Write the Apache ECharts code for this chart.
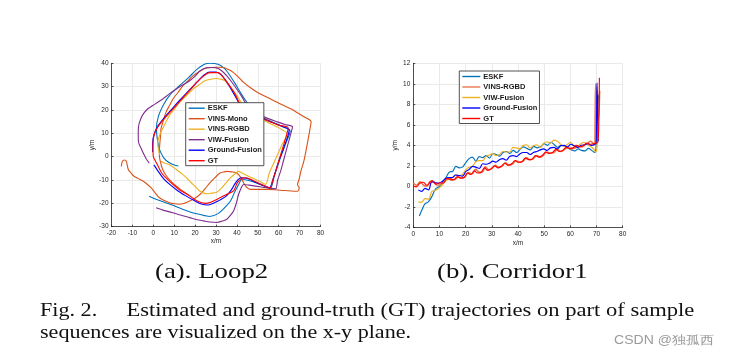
<!DOCTYPE html>
<html>
<head>
<meta charset="utf-8">
<script src="https://cdn.jsdelivr.net/npm/echarts@6/dist/echarts.min.js"></script>
<style>html,body{margin:0;padding:0;background:#fff}#c{width:729px;height:357px}</style>
</head>
<body>
<div id="c"></div>
<script>
// ---------- (a) Loop2 : trajectories [x, y] in metres ----------
const loopNames = ['ESKF', 'VINS-Mono', 'VINS-RGBD', 'VIW-Fusion', 'Ground-Fusion', 'GT'];
const loopESKF = [[-2,-17],[2,-18.5],[6,-19.7],[10,-21],[14,-22.5],[18,-23.8],[22,-24.7],[27,-25.6],[31,-24.4],[34,-22],[37,-18.9],[39,-15],[40.5,-12.5],[42.5,-9.8],[46,-10.3],[50,-11.5],[54,-13],[56,-13.5],[58,-8],[61,0],[63.5,6],[65.5,11],[62,12.8],[57,14.8],[52,17],[48,19.5],[45,23],[42,27],[39,31.5],[36.5,35],[34,37.8],[31,39.6],[27,40],[24.5,39.6],[21,37.5],[17,34],[12.5,30.4],[8,26.5],[5,22.5],[2.5,17.5],[1.5,12],[2,7],[3,3],[5,-0.5],[7.5,-2.5],[10,-3.6],[12,-4]];
const loopVINSMono = [[17,-16.5],[13,-14],[9.5,-11.5],[6.5,-8.5],[4.5,-5.5],[3.2,-1.5],[2.9,1],[3,4],[3.2,6.4],[3.5,9.5],[3.7,12],[4.8,15.5],[6.1,19.1],[7.8,22],[9.4,24.7],[11.8,27.5],[14.2,30.4],[16.6,32.5],[19,34.6],[21.5,36.2],[23.9,37.5],[26.3,38.1],[28.7,38.2],[31,38.3],[33.5,38.2],[36,37.3],[38.4,36],[40.8,34],[43.2,31.8],[46.5,29.5],[49.7,27.6],[53.7,25.8],[57.7,24],[61.7,22.2],[65.8,20.5],[69,18.8],[72.3,17],[75.5,15],[75,12],[74,7],[73,2.2],[72,-2],[70.6,-6.3],[69.8,-9.5],[69,-12],[69.8,-13.3],[69,-14.8],[65.8,-14.7],[62.6,-14.5],[58.5,-14.2],[54.5,-14],[50.5,-14],[46.5,-14],[44.5,-13],[43.2,-11.2],[42.4,-9.8],[41.3,-8.2],[40,-7],[37.5,-6.5],[35.2,-6.3],[33.5,-6.6],[31.9,-7],[29.5,-9],[27.1,-11.2],[24.7,-13.8],[22.3,-16.2],[19.9,-17.8],[17.4,-19],[15,-19.9],[12.6,-20.4],[10.2,-20.2],[7.7,-19.7],[5.3,-18.8],[2.9,-17.6],[0.9,-15.5],[-1.1,-13.3],[-3.2,-11.6],[-5.2,-10.3],[-7.2,-9.4],[-9.2,-8.4],[-10.7,-7],[-11.9,-5.6],[-12.5,-3.5],[-12.9,-2],[-13.7,-1.4],[-14.8,-2],[-15.3,-4.2]];
const loopVINSRGBD = [[3.7,-2],[5.5,-2.8],[7.7,-3.5],[11,-5.5],[14.2,-7.7],[16.7,-9.8],[19,-11.9],[20.8,-13.5],[22.3,-14.8],[25.5,-15.9],[28,-15.6],[30.3,-15.2],[32,-14],[33.5,-12.6],[35.2,-10.8],[36.8,-9.1],[38.8,-7.6],[40.8,-6.3],[42.5,-7],[44,-7.7],[48,-9.4],[51,-10.6],[53.7,-11.9],[55.5,-7],[57.5,-3],[59.4,0.8],[61.8,5.5],[64.2,9.9],[62,11.3],[59.4,12.7],[56,14.1],[52.9,15.5],[48.8,17.3],[44.8,19.1],[42.4,22.7],[40,26.2],[37.2,29.5],[34.4,32.5],[32.3,33.2],[30.3,33.5],[27.5,33.2],[24.7,32.5],[21.8,30.7],[19,29],[15.8,26.1],[12.6,23.3],[10.2,20.5],[7.7,17.7],[5.7,14.2],[3.7,10.6],[2.1,6.1],[2.4,3.6],[3,0.8]];
const loopVIW = [[1.3,-21.9],[5,-23],[9.4,-24],[13,-25],[17.4,-26.1],[21,-27],[24,-27.5],[27,-28],[30.3,-28.2],[33,-27.6],[35.2,-26.8],[37,-25],[38.4,-23.3],[39.7,-20],[40.8,-16.2],[42,-13.5],[43.2,-11.9],[46,-12.2],[49,-12.6],[53,-13.2],[56,-13.6],[58.5,-13.8],[59.5,-10],[61,-6],[62.5,-1],[64,4],[66,10.5],[66.6,12.8],[63,13.8],[59.4,14.9],[55,16.3],[51.3,17.7],[47.5,19.5],[44.8,21.9],[42.5,25.5],[40,28.9],[37.5,32],[35.2,34.6],[33,36.6],[31,37.8],[28,38.2],[25.5,38.1],[22.3,36.7],[20,34.5],[17.4,32.5],[14,30.7],[11,29],[7.5,26.8],[4.5,24.7],[2,23.2],[-0.3,21.9],[-3,20.2],[-5.2,17.7],[-6.5,15],[-7.1,12.7],[-7.2,9.5],[-7.1,6.4],[-5.8,3.5],[-4.4,0.8],[-3.2,-1.2],[-1.9,-2.8]];
const loopGF = [[0.3,-3.5],[2.5,-6.5],[5,-9.5],[8,-12],[12,-14.8],[16,-17],[20,-19],[23,-20.3],[26,-20.7],[29,-19.8],[32,-18.5],[35,-16.8],[37.5,-14],[39.5,-11],[42,-9],[45,-9.3],[49,-11],[53,-12.5],[55.5,-13.3],[57.5,-9],[60,-2],[62.5,4],[65,11.5],[62,12.8],[58,14.3],[54,15.7],[50,17.3],[46,18.8],[43,20.5],[41,23],[38.5,27],[35.5,31.5],[32.5,35],[30,36.3],[27,36.3],[24,34.8],[21,32],[17,28.3],[13,24.5],[9,20.5],[5.5,17],[2.5,13.5],[0.5,10],[-0.3,6],[-0.3,2]];
const loopGT = [[0,0],[-0.2,4],[0.3,9],[2,12.5],[5,16],[9,20],[13,24],[17,28],[21,32],[24,34.5],[27,36],[31,36],[33.5,34],[36,31],[39,27],[41.5,22.5],[44,19.5],[48,18],[52,16.5],[56,15],[60,13.5],[64.5,12.3],[63,7],[61,1],[59,-5],[57,-10.5],[56,-13.3],[52,-12],[48,-10.3],[44,-9],[42,-9.5],[40,-11.5],[38.5,-14.5],[35,-16.2],[31,-18],[27.5,-19.5],[25,-20],[21,-19],[17,-16.5],[13,-14.5],[9.5,-12],[6,-9],[4,-7],[2,-3.5],[0.5,-1],[0,0]];

// ---------- (b) Corridor1 ----------
const corrNames = ['ESKF', 'VINS-RGBD', 'VIW-Fusion', 'Ground-Fusion', 'GT'];
const corrESKF = [[2.3,-2.9],[3.5,-2.2],[4.5,-1.7],[5.8,-1.5],[7.1,-1.0],[8.4,-0.3],[10,0],[11.3,0.4],[12.6,0.9],[13.8,1.4],[15,1.45],[16.3,1.95],[17.6,1.8],[18.9,1.9],[20,2.3],[21.3,2.7],[22.6,2.85],[23.9,2.45],[25.2,2.9],[26.5,2.8],[27.8,3.0],[29.1,2.75],[30.4,3.2],[31.7,3.1],[33,2.95],[34.3,3.3],[35.6,3.4],[36.9,3.2],[38.2,3.5],[39.5,3.3],[40.8,3.6],[42.1,3.85],[43.4,3.7],[44.7,3.55],[46,3.9],[47.3,3.75],[48.6,3.85],[50,4.15],[51.3,4.0],[52.6,4.3],[53.9,4.05],[55.2,3.8],[56.5,4.0],[57.8,3.95],[59.1,3.7],[60.4,3.55],[61.7,3.45],[63,3.65],[64.3,3.5],[65.6,3.45],[66.9,3.7],[68.2,3.5],[69.3,3.3],[69.8,3.8],[70.3,7],[70.8,8.8],[71.2,9]];
const corrVINSRGBD = [[0,0.3],[1.3,0.1],[2.6,0.45],[3.9,0.1],[5.2,0.0],[6.5,0.5],[7.7,0.45],[9.2,0.1],[10.6,0.2],[11.8,0.45],[13.2,0.75],[14.5,0.6],[15.8,0.65],[17.2,0.9],[18.5,0.8],[19.8,0.95],[21,1.35],[22.4,1.2],[23.8,1.65],[25.1,1.4],[26.4,1.4],[27.5,1.9],[28.9,1.6],[30.2,1.8],[31.3,2.05],[32.7,1.85],[34,2.0],[35.2,2.3],[36.6,2.05],[38,2.2],[39.2,2.5],[40.6,2.35],[42,2.45],[43.2,2.8],[44.6,2.6],[45.9,2.7],[47.1,3.0],[48.5,2.85],[49.8,3.05],[51,3.35],[52.4,3.25],[53.7,3.3],[55,3.6],[56.3,3.4],[57.6,3.55],[58.9,3.75],[60.2,3.65],[61.5,3.7],[62.8,3.9],[64.1,3.85],[65.4,4.0],[66.7,4.25],[67.8,4.4],[68.8,4.15],[69.3,4.1],[69.5,7],[69.7,10],[70.1,8.2],[70.7,6.5],[71.2,9.3]];
const corrVIW = [[1.9,-1.55],[3.2,-1.55],[4.5,-1.2],[5.8,-1.25],[7.1,-0.5],[8.4,-0.4],[9.7,-0.2],[11,0.1],[12.3,0.55],[13.6,0.7],[14.9,0.85],[16.1,1.1],[17.4,1.05],[18.7,1.15],[20,1.6],[21.3,1.85],[22.6,1.95],[23.9,2.4],[25.2,2.5],[26.5,2.5],[27.7,2.9],[29,3.05],[30.3,3.2],[31.6,3.0],[32.9,3.1],[34.2,3.4],[35.5,3.35],[36.8,3.35],[38.1,3.8],[39.4,3.75],[40.7,3.65],[42,4.0],[43.3,4.05],[44.6,3.75],[45.9,3.95],[47.2,4.05],[48.5,3.8],[49.8,4.2],[51.1,4.35],[52.4,4.2],[53.7,4.5],[55,4.4],[56.3,4.1],[57.6,3.9],[58.9,4.1],[60.1,4.3],[61.4,3.95],[62.7,3.95],[64,4.15],[65.3,4.3],[66.6,4.05],[67.9,3.85],[69,3.6],[69.7,3.35],[70.1,3.6],[70.4,5.2],[70.6,6.5]];
const corrGF = [[1.9,-0.35],[3.2,-0.5],[4.5,-0.2],[5.8,-0.35],[7.1,0.45],[8.4,0.35],[9.7,0.3],[11,0.45],[12.3,0.75],[13.6,0.85],[14.9,0.85],[16.2,1.1],[17.5,1.05],[18.8,1.0],[20.1,1.45],[21.4,1.65],[22.7,1.95],[24,1.85],[25.3,1.75],[26.5,2.2],[27.8,2.15],[29.1,2.25],[30.4,2.45],[31.6,2.35],[32.9,2.6],[34.2,2.7],[35.5,2.55],[36.8,2.9],[38.1,3.0],[39.4,2.9],[40.7,3.15],[42,3.3],[43.3,3.3],[44.6,3.1],[45.9,3.3],[47.2,3.4],[48.5,3.55],[49.8,3.65],[51.1,3.5],[52.4,3.75],[53.7,3.8],[55,3.65],[56.3,3.95],[57.6,4.0],[58.9,3.85],[60.2,4.1],[61.5,3.95],[62.8,3.8],[64.1,4.0],[65.4,4.05],[66.7,4.15],[68,4.0],[69.2,4.05],[69.8,4.2],[70,6.5],[70.2,10.1],[70.4,8],[70.6,4.4]];
const corrGT = [[0,0],[1.2,-0.05],[2.5,0.3],[3.8,0.4],[5.2,0.1],[6.5,0.4],[7.2,0.55],[8.6,0.2],[10,0.35],[11.4,0.3],[12.8,0.75],[14.1,0.7],[15.5,0.65],[16.8,0.95],[18.1,0.8],[19.4,0.85],[20.7,1.3],[22,1.15],[23.3,1.5],[24.6,1.3],[25.9,1.35],[27.2,1.8],[28.5,1.55],[29.8,1.7],[31.1,2.0],[32.4,1.8],[33.7,1.95],[35,2.25],[36.3,2.05],[37.6,2.2],[38.9,2.5],[40.2,2.35],[41.5,2.4],[42.8,2.75],[44.1,2.6],[45.4,2.65],[46.7,3.0],[48,2.85],[49.3,3.0],[50.6,3.35],[51.9,3.2],[53.2,3.3],[54.5,3.6],[55.8,3.4],[57.1,3.5],[58.4,3.8],[59.7,3.7],[61,3.75],[62.3,4.0],[63.6,3.85],[64.9,3.95],[66.2,4.2],[67.5,4.1],[68.8,4.15],[69.8,4.2],[70.5,4.3],[70.9,6.5],[71.1,10.6]];

// tick ranges
const loopX = {min: -20, max: 80, step: 10};
const loopY = {min: -30, max: 40, step: 10};
const corrX = {min: 0, max: 80, step: 10};
const corrY = {min: -4, max: 12, step: 2};

// captions
const captionA = '(a). Loop2';
const captionB = '(b). Corridor1';
const figLabel = 'Fig. 2.';
const figLine1 = 'Estimated and ground-truth (GT) trajectories on part of sample';
const figLine2 = 'sequences are visualized on the x-y plane.';
const watermark = 'CSDN @独孤西';

const SANS = '"Liberation Sans", Arial, Helvetica, sans-serif';
const SERIF = '"Liberation Serif", "Times New Roman", serif';

const loopColors = {'ESKF':'#0072BD','VINS-Mono':'#D95319','VINS-RGBD':'#EDB120','VIW-Fusion':'#7E2F8E','Ground-Fusion':'#0000FF','GT':'#FF0000'};
const corrColors = {'ESKF':'#0072BD','VINS-RGBD':'#E8764F','VIW-Fusion':'#EDB120','Ground-Fusion':'#0000FF','GT':'#FF0000'};

function axisCommon(r, name, gap) {
  return {
    type: 'value', min: r.min, max: r.max, interval: r.step,
    name: name, nameLocation: 'middle', nameGap: gap,
    nameTextStyle: {fontSize: 6.5, color: '#262626', fontFamily: SANS},
    axisLine: {show: true, onZero: false, lineStyle: {color: '#262626', width: 0.8}},
    axisTick: {show: true, inside: true, length: 2, lineStyle: {color: '#262626', width: 0.8}},
    axisLabel: {fontSize: 6.5, color: '#262626', fontFamily: SANS, margin: 3},
    splitLine: {show: true, lineStyle: {color: '#e4e4e4', width: 0.8}}
  };
}

const loopData = [loopESKF, loopVINSMono, loopVINSRGBD, loopVIW, loopGF, loopGT];
const corrData = [corrESKF, corrVINSRGBD, corrVIW, corrGF, corrGT];

const series = [];
loopNames.forEach((n, i) => series.push({
  name: n, type: 'line', xAxisIndex: 0, yAxisIndex: 0, data: loopData[i],
  showSymbol: false, smooth: 0.3, color: loopColors[n],
  lineStyle: {width: 1.1, color: loopColors[n]}, animation: false
}));
corrNames.forEach((n, i) => series.push({
  name: n, type: 'line', xAxisIndex: 1, yAxisIndex: 1, data: corrData[i],
  showSymbol: false, smooth: 0.35, color: corrColors[n],
  lineStyle: {width: n === 'VINS-RGBD' ? 1.6 : 1.15, color: corrColors[n]}, animation: false
}));

function legendCfg(names, colors, left, top, itemW) {
  return {
    orient: 'vertical', left: left, top: top, z: 20,
    data: names.map(n => ({name: n, itemStyle: {color: colors[n]}})),
    icon: 'rect', itemWidth: itemW, itemHeight: 1.4, itemGap: 2.5,
    padding: [1.5, 2, 1, 3],
    backgroundColor: '#ffffff', borderColor: '#262626', borderWidth: 0.8, borderRadius: 0,
    selectedMode: false,
    textStyle: {fontSize: 7.5, fontWeight: 'bold', color: '#1a1a1a', fontFamily: SANS, lineHeight: 8, padding: [0, 0, 0, -2]}
  };
}

function txt(x, y, text, font, fill, sx) {
  return {type: 'text', x: x, y: y, scaleX: sx, scaleY: 1, originX: 0, originY: 0, silent: true,
    style: {text: text, font: font, fill: fill, textAlign: 'left', align: 'left', textVerticalAlign: 'middle', verticalAlign: 'middle'}};
}

const option = {
  animation: false,
  backgroundColor: '#ffffff',
  grid: [
    {left: 111.5, top: 63.3, width: 209, height: 163.4, containLabel: false},
    {left: 413.3, top: 63.3, width: 209.4, height: 164, containLabel: false}
  ],
  xAxis: [axisCommon(loopX, 'x/m', 11.5), Object.assign(axisCommon(corrX, 'x/m', 12), {gridIndex: 1})],
  yAxis: [axisCommon(loopY, 'y/m', 11.5), Object.assign(axisCommon(corrY, 'y/m', 11.5), {gridIndex: 1})],
  legend: [
    legendCfg(loopNames, loopColors, 185.7, 102.7, 16),
    legendCfg(corrNames, corrColors, 459.3, 71, 18)
  ],
  series: series,
  graphic: [
    txt(155, 272, captionA, '22px ' + SERIF, '#111', 1.22),
    txt(437, 272, captionB, '22px ' + SERIF, '#111', 1.22),
    txt(40, 311, figLabel, '18px ' + SERIF, '#111', 1.23),
    txt(126.5, 311, figLine1, '18px ' + SERIF, '#111', 1.254),
    txt(40, 333, figLine2, '18px ' + SERIF, '#111', 1.227),
    txt(614, 341, watermark, '12px ' + SANS, '#9a9a9a', 1.17)
  ]
};

const chart = echarts.init(document.getElementById('c'), null, {renderer: 'canvas'});
chart.setOption(option);
</script>
</body>
</html>
